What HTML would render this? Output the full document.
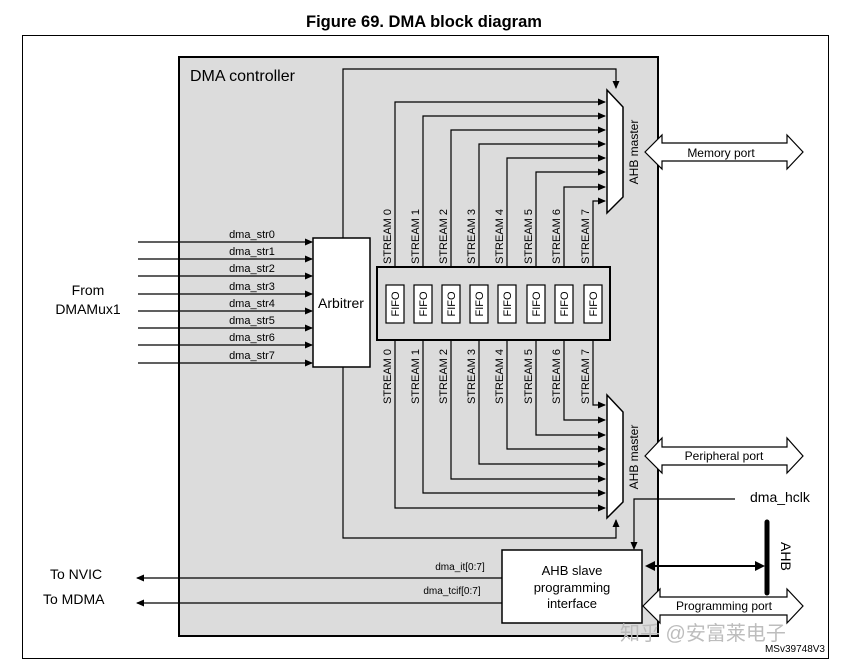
<!DOCTYPE html>
<html><head><meta charset="utf-8"><style>
html,body{margin:0;padding:0;background:#fff}
svg{display:block}
text{font-family:"Liberation Sans",Arial,sans-serif;fill:#000}
</style></head><body>
<svg width="847" height="667" viewBox="0 0 847 667" xmlns="http://www.w3.org/2000/svg">
<defs>
<marker id="a" markerWidth="8" markerHeight="8" refX="7" refY="4" orient="auto" markerUnits="userSpaceOnUse"><path d="M0,0.5 L8,4 L0,7.5Z" fill="#000"/></marker>
</defs>
<text x="424" y="27" font-size="16.5" font-weight="bold" text-anchor="middle">Figure 69. DMA block diagram</text>
<rect x="22.5" y="35.5" width="806" height="623" fill="#fff" stroke="#000" stroke-width="1"/>
<rect x="179" y="57" width="479" height="579" fill="#dcdcdc" stroke="#000" stroke-width="2"/>
<text x="190" y="81" font-size="16">DMA controller</text>

<g stroke="#000" stroke-width="1.2" fill="none">
<polyline points="343,238 343,69 616,69 616,88" marker-end="url(#a)"/>
<polyline points="343,367 343,538 616,538 616,520" marker-end="url(#a)"/>
<polyline points="395,277 395,102 605,102" marker-end="url(#a)"/>
<polyline points="423,277 423,116 605,116" marker-end="url(#a)"/>
<polyline points="451,277 451,130 605,130" marker-end="url(#a)"/>
<polyline points="479,277 479,144 605,144" marker-end="url(#a)"/>
<polyline points="507,277 507,158 605,158" marker-end="url(#a)"/>
<polyline points="536,277 536,172 605,172" marker-end="url(#a)"/>
<polyline points="564,277 564,187 605,187" marker-end="url(#a)"/>
<polyline points="593,277 593,201 605,201" marker-end="url(#a)"/>
<line x1="395" y1="270" x2="395" y2="283" marker-end="url(#a)"/>
<line x1="423" y1="270" x2="423" y2="283" marker-end="url(#a)"/>
<line x1="451" y1="270" x2="451" y2="283" marker-end="url(#a)"/>
<line x1="479" y1="270" x2="479" y2="283" marker-end="url(#a)"/>
<line x1="507" y1="270" x2="507" y2="283" marker-end="url(#a)"/>
<line x1="536" y1="270" x2="536" y2="283" marker-end="url(#a)"/>
<line x1="564" y1="270" x2="564" y2="283" marker-end="url(#a)"/>
<line x1="593" y1="270" x2="593" y2="283" marker-end="url(#a)"/>
<polyline points="395,325 395,508 605,508" marker-end="url(#a)"/>
<polyline points="423,325 423,493 605,493" marker-end="url(#a)"/>
<polyline points="451,325 451,479 605,479" marker-end="url(#a)"/>
<polyline points="479,325 479,464 605,464" marker-end="url(#a)"/>
<polyline points="507,325 507,449 605,449" marker-end="url(#a)"/>
<polyline points="536,325 536,435 605,435" marker-end="url(#a)"/>
<polyline points="564,325 564,420 605,420" marker-end="url(#a)"/>
<polyline points="593,325 593,405 605,405" marker-end="url(#a)"/>
<line x1="395" y1="338" x2="395" y2="324" marker-end="url(#a)"/>
<line x1="423" y1="338" x2="423" y2="324" marker-end="url(#a)"/>
<line x1="451" y1="338" x2="451" y2="324" marker-end="url(#a)"/>
<line x1="479" y1="338" x2="479" y2="324" marker-end="url(#a)"/>
<line x1="507" y1="338" x2="507" y2="324" marker-end="url(#a)"/>
<line x1="536" y1="338" x2="536" y2="324" marker-end="url(#a)"/>
<line x1="564" y1="338" x2="564" y2="324" marker-end="url(#a)"/>
<line x1="593" y1="338" x2="593" y2="324" marker-end="url(#a)"/>
<line x1="138" y1="242" x2="312" y2="242" marker-end="url(#a)"/>
<line x1="138" y1="259" x2="312" y2="259" marker-end="url(#a)"/>
<line x1="138" y1="276" x2="312" y2="276" marker-end="url(#a)"/>
<line x1="138" y1="294" x2="312" y2="294" marker-end="url(#a)"/>
<line x1="138" y1="311" x2="312" y2="311" marker-end="url(#a)"/>
<line x1="138" y1="328" x2="312" y2="328" marker-end="url(#a)"/>
<line x1="138" y1="345" x2="312" y2="345" marker-end="url(#a)"/>
<line x1="138" y1="363" x2="312" y2="363" marker-end="url(#a)"/>
<line x1="502" y1="578" x2="137" y2="578" marker-end="url(#a)"/>
<line x1="502" y1="603" x2="137" y2="603" marker-end="url(#a)"/>
<polyline points="735,499 634,499 634,549" marker-end="url(#a)"/>
</g>

<rect x="377" y="267" width="233" height="73" fill="#dcdcdc" stroke="#000" stroke-width="2"/>
<g fill="#fff" stroke="#000" stroke-width="1.2">
<rect x="386" y="285" width="18" height="38"/><rect x="414" y="285" width="18" height="38"/>
<rect x="442" y="285" width="18" height="38"/><rect x="470" y="285" width="18" height="38"/>
<rect x="498" y="285" width="18" height="38"/><rect x="527" y="285" width="18" height="38"/>
<rect x="555" y="285" width="18" height="38"/><rect x="584" y="285" width="18" height="38"/>
</g>
<g font-size="11">
<text transform="translate(399,304) rotate(-90)" text-anchor="middle">FIFO</text>
<text transform="translate(427,304) rotate(-90)" text-anchor="middle">FIFO</text>
<text transform="translate(455,304) rotate(-90)" text-anchor="middle">FIFO</text>
<text transform="translate(483,304) rotate(-90)" text-anchor="middle">FIFO</text>
<text transform="translate(511,304) rotate(-90)" text-anchor="middle">FIFO</text>
<text transform="translate(540,304) rotate(-90)" text-anchor="middle">FIFO</text>
<text transform="translate(568,304) rotate(-90)" text-anchor="middle">FIFO</text>
<text transform="translate(597,304) rotate(-90)" text-anchor="middle">FIFO</text>
</g>
<g font-size="11">
<text transform="translate(391,264) rotate(-90)">STREAM 0</text>
<text transform="translate(419,264) rotate(-90)">STREAM 1</text>
<text transform="translate(447,264) rotate(-90)">STREAM 2</text>
<text transform="translate(475,264) rotate(-90)">STREAM 3</text>
<text transform="translate(503,264) rotate(-90)">STREAM 4</text>
<text transform="translate(532,264) rotate(-90)">STREAM 5</text>
<text transform="translate(560,264) rotate(-90)">STREAM 6</text>
<text transform="translate(589,264) rotate(-90)">STREAM 7</text>
<text transform="translate(391,404) rotate(-90)">STREAM 0</text>
<text transform="translate(419,404) rotate(-90)">STREAM 1</text>
<text transform="translate(447,404) rotate(-90)">STREAM 2</text>
<text transform="translate(475,404) rotate(-90)">STREAM 3</text>
<text transform="translate(503,404) rotate(-90)">STREAM 4</text>
<text transform="translate(532,404) rotate(-90)">STREAM 5</text>
<text transform="translate(560,404) rotate(-90)">STREAM 6</text>
<text transform="translate(589,404) rotate(-90)">STREAM 7</text>
</g>

<polygon points="607,90 623,107 623,197 607,213" fill="#fff" stroke="#000" stroke-width="1.5"/>
<polygon points="607,395 623,412 623,502 607,518" fill="#fff" stroke="#000" stroke-width="1.5"/>
<text transform="translate(638,152) rotate(-90)" font-size="12" text-anchor="middle">AHB master</text>
<text transform="translate(638,457) rotate(-90)" font-size="12" text-anchor="middle">AHB master</text>

<rect x="313" y="238" width="57" height="129" fill="#fff" stroke="#000" stroke-width="1.5"/>
<text x="341" y="308" font-size="14" text-anchor="middle">Arbitrer</text>
<g font-size="11" text-anchor="middle">
<text x="252" y="238">dma_str0</text><text x="252" y="255">dma_str1</text>
<text x="252" y="272">dma_str2</text><text x="252" y="290">dma_str3</text>
<text x="252" y="307">dma_str4</text><text x="252" y="324">dma_str5</text>
<text x="252" y="341">dma_str6</text><text x="252" y="359">dma_str7</text>
</g>
<text x="88" y="295" font-size="14" text-anchor="middle">From</text>
<text x="88" y="314" font-size="14" text-anchor="middle">DMAMux1</text>

<g fill="#fff" stroke="#000" stroke-width="1.2">
<polygon points="645,152 662,135 662,143 787,143 787,135 803,152 787,169 787,161 662,161 662,169"/>
<polygon points="645,456 662,438 662,447 787,447 787,438 803,456 787,473 787,465 662,465 662,473"/>
<polygon points="643,606 660,589 660,597 787,597 787,589 803,606 787,623 787,615 660,615 660,623"/>
</g>
<text x="721" y="157" font-size="12" text-anchor="middle">Memory port</text>
<text x="724" y="460" font-size="12" text-anchor="middle">Peripheral port</text>
<text x="724" y="610" font-size="12" text-anchor="middle">Programming port</text>

<rect x="502" y="550" width="140" height="73" fill="#fff" stroke="#000" stroke-width="1.5"/>
<g font-size="13" text-anchor="middle"><text x="572" y="575">AHB slave</text><text x="572" y="592">programming</text><text x="572" y="608">interface</text></g>
<text x="460" y="570" font-size="10" text-anchor="middle">dma_it[0:7]</text>
<text x="452" y="594" font-size="10" text-anchor="middle">dma_tcif[0:7]</text>
<text x="50" y="579" font-size="14">To NVIC</text>
<text x="43" y="604" font-size="14">To MDMA</text>
<text x="750" y="502" font-size="14">dma_hclk</text>

<line x1="767" y1="522" x2="767" y2="593" stroke="#000" stroke-width="5" stroke-linecap="round"/>
<line x1="652" y1="566" x2="757" y2="566" stroke="#000" stroke-width="2"/>
<polygon points="645,566 655,561 655,571" fill="#000"/>
<polygon points="765,566 755,561 755,571" fill="#000"/>
<text transform="translate(781,542) rotate(90)" font-size="14">AHB</text>

<text x="620" y="640" font-size="20" style="fill:#bdbdbd" font-family="'Noto Sans CJK SC',sans-serif">知乎 @安富莱电子</text>
<text x="825" y="652" font-size="10" text-anchor="end">MSv39748V3</text>
</svg>
</body></html>
